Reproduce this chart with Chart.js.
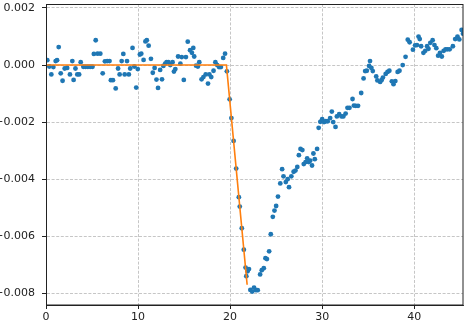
<!DOCTYPE html>
<html>
<head>
<meta charset="utf-8">
<script src="https://cdn.jsdelivr.net/npm/chart.js@4/dist/chart.umd.min.js"></script>
<style>
  html, body { margin: 0; padding: 0; background: #fff; }
  #wrap { width: 474px; height: 327px; }
</style>
</head>
<body>
<div id="wrap"><canvas id="c" width="474" height="327"></canvas></div>
<script>
// Measured points (x, y)
const xs = [
  0.14, 0.36, 0.58, 0.8, 1.05, 1.2, 1.38, 1.6, 1.8, 2.03, 2.3, 2.6, 2.86, 3.0, 3.2, 3.4, 3.6, 3.77, 4.06, 4.3,
  4.55, 4.8, 5.05, 5.2, 5.4, 5.6, 5.9, 6.16, 6.4, 6.65, 6.9, 7.05, 7.27, 7.57, 7.83, 8.0, 8.22, 8.4, 8.55, 8.8,
  9.0, 9.15, 9.4, 9.6, 9.8, 9.97, 10.2, 10.35, 10.6, 10.8, 10.95, 11.15, 11.4, 11.6, 11.8, 12.0, 12.17, 12.4, 12.6, 12.75,
  12.95, 13.1, 13.3, 13.5, 13.75, 13.9, 14.05, 14.35, 14.6, 14.75, 14.97, 15.2, 15.4, 15.65, 15.85, 16.0, 16.1, 16.3, 16.5, 16.65,
  16.9, 17.1, 17.35, 17.6, 17.75, 17.95, 18.2, 18.4, 18.6, 18.8, 19.0, 19.25, 19.45, 19.65, 19.95, 20.14, 20.38, 20.66, 20.95, 21.05,
  21.27, 21.49, 21.68, 21.76, 21.9, 22.05, 22.2, 22.4, 22.6, 22.8, 23.0, 23.26, 23.44, 23.66, 23.84, 24.0, 24.24, 24.42, 24.64, 24.82,
  25.0, 25.2, 25.45, 25.65, 25.8, 26.05, 26.25, 26.4, 26.65, 26.9, 27.1, 27.3, 27.47, 27.65, 27.85, 28.0, 28.2, 28.37, 28.55, 28.7,
  28.9, 29.05, 29.2, 29.45, 29.62, 29.8, 30.0, 30.2, 30.4, 30.6, 30.87, 31.05, 31.2, 31.45, 31.6, 31.85, 32.1, 32.3, 32.55, 32.75,
  32.97, 33.3, 33.45, 33.65, 33.9, 34.24, 34.5, 34.67, 34.85, 35.1, 35.2, 35.35, 35.5, 35.87, 36.0, 36.3, 36.45, 36.6, 36.9, 37.1,
  37.3, 37.57, 37.75, 37.95, 38.2, 38.4, 38.75, 39.06, 39.3, 39.5, 39.86, 40.1, 40.3, 40.47, 40.6, 40.75, 41.0, 41.2, 41.4, 41.55,
  41.75, 42.0, 42.2, 42.4, 42.6, 42.8, 43.0, 43.2, 43.4, 43.6, 43.85, 44.2, 44.45, 44.7, 44.9, 45.15, 45.3
];
const ys = [
  0.00017, -0.00005, -0.00033, -0.00007, 0.00014, 0.00017, 0.00063, -0.00029, -0.00055, -0.00012, -0.0001, -0.00033, 0.00014, -0.00052, -0.00012, -0.00033, -0.00033, 0.0001, -0.00006, -0.00006,
  -0.00006, -0.00006, -0.00006, 0.00039, 0.00087, 0.0004, 0.0004, -0.00029, 0.00013, 0.00014, 0.00014, -0.00053, -0.00053, -0.00082, -0.00012, -0.00033, 0.00014, 0.00039, -0.00033, 0.00014,
  -0.00033, -0.00012, 0.0006, -0.00005, -0.00079, -0.00014, 0.00037, 0.0004, 0.00018, 0.00083, 0.00087, 0.00068, 0.00022, -0.00027, -0.0001, -0.00051, -0.0008, -0.00017, -0.0005, -0.00003,
  0.00005, 0.0001, 0.0001, 0.0, 0.0001, -0.00023, -0.00014, 0.0003, 0.00005, 0.00028, -0.00052, 0.00028, 0.00082, 0.00052, 0.00043, 0.0006, 0.0003, -0.00002, -0.00005, 0.0001,
  -0.0005, -0.00042, -0.00033, -0.00065, -0.00033, -0.00042, -0.0002, 0.0001, 0.0, -0.00007, -0.00007, 0.00025, 0.0004, -0.00022, -0.0012, -0.00186, -0.00266, -0.00363, -0.00463, -0.00496,
  -0.00572, -0.00647, -0.0071, -0.0074, -0.00723, -0.00715, -0.00788, -0.00794, -0.0078, -0.00789, -0.00789, -0.00734, -0.00719, -0.00712, -0.00677, -0.0068, -0.00653, -0.00593, -0.00532, -0.0051,
  -0.00494, -0.00461, -0.00415, -0.00365, -0.0039, -0.0041, -0.004, -0.00428, -0.0039, -0.00374, -0.0037, -0.00357, -0.00316, -0.00294, -0.00298, -0.00347, -0.0034, -0.00327, -0.0034, -0.00335,
  -0.00352, -0.0031, -0.0033, -0.00294, -0.0022, -0.00199, -0.0019, -0.002, -0.00197, -0.00197, -0.00186, -0.00163, -0.002, -0.00217, -0.0018, -0.00172, -0.0018, -0.0018, -0.0017, -0.0015,
  -0.0015, -0.00119, -0.00142, -0.00143, -0.00143, -0.00098, -0.00047, -0.00021, -0.0002, -0.00003, 0.00014, -0.0001, -0.00021, -0.0004, -0.00054, -0.00059, -0.00053, -0.00044, -0.00031, -0.00024,
  -0.0002, -0.00057, -0.00067, -0.00056, -0.00024, -0.0002, 0.0, 0.00029, 0.00089, 0.0008, 0.00054, 0.00069, 0.0007, 0.001, 0.00091, 0.00066, 0.00043, 0.0005, 0.00066, 0.00057,
  0.00078, 0.00087, 0.0007, 0.00059, 0.00033, 0.00043, 0.0003, 0.0005, 0.00055, 0.00055, 0.00055, 0.00066, 0.00091, 0.001, 0.0009, 0.00123, 0.0011
];
// Fitted piecewise line
const fitX = [0, 19.6, 21.85];
const fitY = [0, 0, -0.0077];
// Axis ticks
const xTicks = [0, 10, 20, 30, 40];
const xTickLabels = ['0', '10', '20', '30', '40'];
const yTicks = [0.002, 0, -0.002, -0.004, -0.006, -0.008];
const yTickLabels = ['0.002', '0.000', '\u22120.002', '\u22120.004', '\u22120.006', '\u22120.008'];

const pts = xs.map((x, i) => ({ x: x, y: ys[i] }));
const fit = fitX.map((x, i) => ({ x: x, y: fitY[i] }));

const frame = {
  id: 'frame',
  afterDraw(chart) {
    const a = chart.chartArea, ctx = chart.ctx;
    ctx.save();
    ctx.strokeStyle = '#222';
    ctx.lineWidth = 1;
    ctx.strokeRect(Math.round(a.left) + 0.5, Math.round(a.top) + 0.5, Math.round(a.right - a.left) - 0.5, Math.round(a.bottom - a.top) - 0.5);
    ctx.restore();
  }
};

Chart.defaults.font.family = '"DejaVu Sans", sans-serif';
Chart.defaults.font.size = 11;
Chart.defaults.color = '#222';

new Chart(document.getElementById('c'), {
  type: 'scatter',
  data: {
    datasets: [
      {
        data: pts,
        showLine: false,
        pointRadius: 2.4,
        pointBorderWidth: 0,
        pointBackgroundColor: '#1f77b4',
        pointBorderColor: '#1f77b4',
        order: 2
      },
      {
        data: fit,
        showLine: true,
        pointRadius: 0,
        borderColor: '#ff7f0e',
        borderWidth: 1.6,
        fill: false,
        order: 1
      }
    ]
  },
  options: {
    responsive: false,
    animation: false,
    events: [],
    layout: { padding: { top: 0, right: 11, bottom: 0, left: 0 } },
    plugins: { legend: { display: false }, tooltip: { enabled: false } },
    scales: {
      x: {
        type: 'linear',
        min: 0,
        max: 45.3,
        afterBuildTicks: s => { s.ticks = xTicks.map(v => ({ value: v })); },
        afterFit: s => { s.height = 22; s.paddingLeft = 0; s.paddingRight = 0; },
        ticks: {
          padding: 2,
          maxRotation: 0,
          color: '#222',
          callback: (v, i) => xTickLabels[i]
        },
        grid: {
          color: '#b8b8b8',
          lineWidth: 0.8,
          tickColor: '#222',
          tickLength: 4,
          tickWidth: 1
        },
        border: { display: true, color: '#222', width: 1, dash: [3, 1.6] }
      },
      y: {
        type: 'linear',
        min: -0.00841,
        max: 0.00214,
        afterBuildTicks: s => { s.ticks = yTicks.map(v => ({ value: v })); },
        afterFit: s => { s.width = 46; s.paddingTop = 0; s.paddingBottom = 0; },
        ticks: {
          padding: 7,
          color: '#222',
          callback: (v, i) => yTickLabels[i]
        },
        grid: {
          color: '#b8b8b8',
          lineWidth: 0.8,
          tickColor: '#222',
          tickLength: 4,
          tickWidth: 1
        },
        border: { display: true, color: '#222', width: 1, dash: [3, 1.6] }
      }
    }
  },
  plugins: [frame]
});
</script>
</body>
</html>
